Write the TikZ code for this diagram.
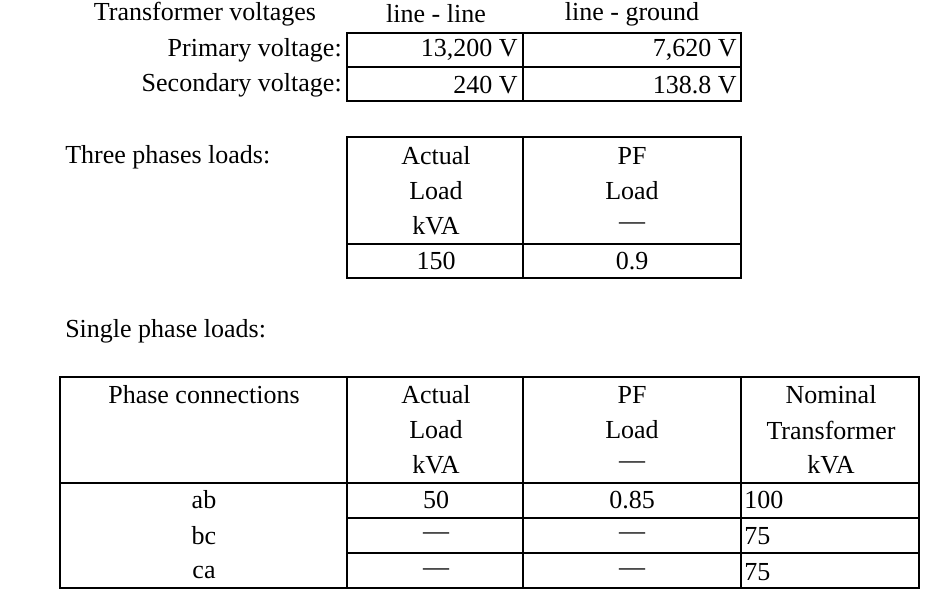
\documentclass[tikz,border=0pt]{standalone}
\usepackage{fontspec}
\setmainfont{Liberation Serif}
\begin{document}
\begin{tikzpicture}[x=0.75pt,y=-0.75pt,
  txt/.style={inner sep=0pt,font=\fontsize{19.5}{22}\selectfont},
  lt/.style={txt,anchor=west},
  rt/.style={txt,anchor=east},
  grid/.style={line width=1.4pt}]
\useasboundingbox (0,0) rectangle (938,594);
% transformer voltages
\node[txt] (tv) at (205,14) {Transformer voltages};
\node[txt] (ll) at (436,14) {line - line};
\node[txt] (lg) at (632,14) {line - ground};
\node[rt] (pv) at (342,50) {Primary voltage:};
\node[rt] (sv) at (342,85) {Secondary voltage:};
\node[rt] (p1) at (518,50) {13,200 V};
\node[rt] (p2) at (737,50) {7,620 V};
\node[rt] (s1) at (518,85) {240 V};
\node[rt] (s2) at (737,85) {138.8 V};
\draw[grid] (347,33) rectangle (741,101);
\draw[grid] (347,67) -- (741,67) (523,33) -- (523,101);
% three phase
\node[lt] (tp) at (65,157) {Three phases loads:};
\draw[grid] (347,137) rectangle (741,278);
\draw[grid] (347,244) -- (741,244) (523,137) -- (523,278);
\node[txt] (a1) at (436,156) {Actual};
\node[txt] (a2) at (436,191) {Load};
\node[txt] (a3) at (436,226) {kVA};
\node[txt] (b1) at (632,156) {PF};
\node[txt] (b2) at (632,191) {Load};
\node[txt] (b3) at (632,226) {---};
\node[txt] (a4) at (436,261) {150};
\node[txt] (b4) at (632,261) {0.9};
% single phase
\node[lt] (sp) at (65,331) {Single phase loads:};
\draw[grid] (60,377) rectangle (919,588);
\draw[grid] (60,483) -- (919,483) (347,518) -- (919,518) (347,553) -- (919,553);
\draw[grid] (347,377) -- (347,588) (523,377) -- (523,588) (741,377) -- (741,588);
\node[txt] (c0) at (204,395) {Phase connections};
\node[txt] (c1) at (436,395) {Actual};
\node[txt] (c2) at (436,430) {Load};
\node[txt] (c3) at (436,465) {kVA};
\node[txt] (d1) at (632,395) {PF};
\node[txt] (d2) at (632,430) {Load};
\node[txt] (d3) at (632,465) {---};
\node[txt] (e1) at (831,395) {Nominal};
\node[txt] (e2) at (831,430) {Transformer};
\node[txt] (e3) at (831,465) {kVA};
\node[txt] (r1) at (204,500) {ab};
\node[txt] (r2) at (204,536) {bc};
\node[txt] (r3) at (204,572) {ca};
\node[txt] (r1a) at (436,500) {50};
\node[txt] (r2a) at (436,536) {---};
\node[txt] (r3a) at (436,572) {---};
\node[txt] (r1b) at (632,500) {0.85};
\node[txt] (r2b) at (632,536) {---};
\node[txt] (r3b) at (632,572) {---};
\node[lt] (r1c) at (744,500) {100};
\node[lt] (r2c) at (744,536) {75};
\node[lt] (r3c) at (744,572) {75};
\end{tikzpicture}
\end{document}
